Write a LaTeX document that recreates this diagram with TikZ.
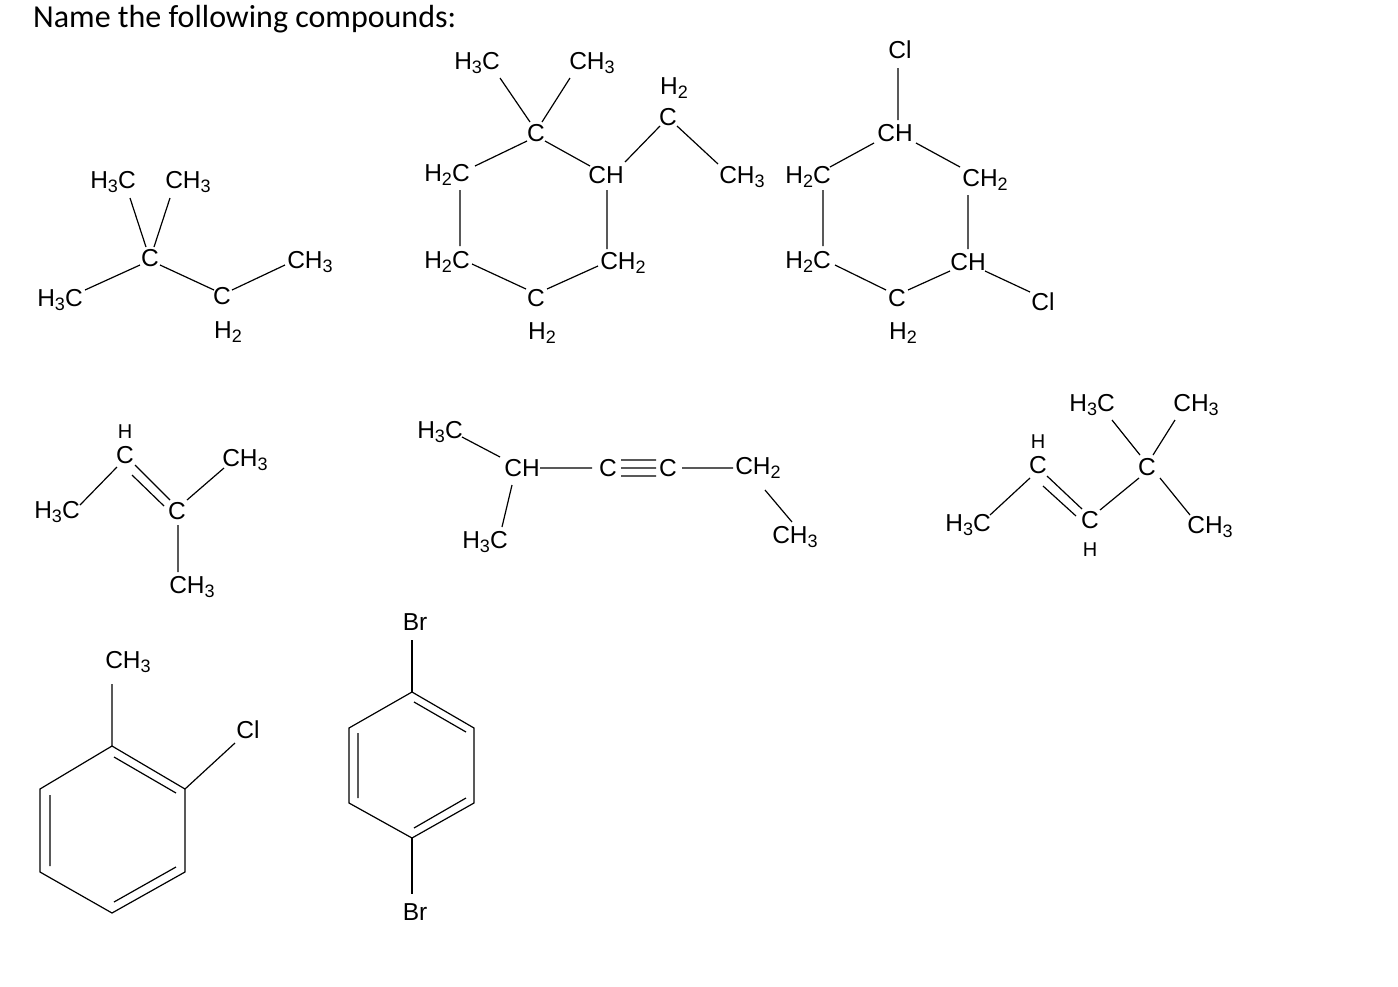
\documentclass[tikz,border=0pt]{standalone}
\usepackage{fontspec}
\setmainfont{Liberation Sans}
\newfontfamily\titlefont{Carlito}
\newcommand{\sbs}[1]{\raisebox{-0.35ex}{\fontsize{18}{18}\selectfont #1}}
\begin{document}
\begin{tikzpicture}[x=1pt,y=-1pt,
  lab/.style={inner sep=0pt,font=\fontsize{24.5}{25}\selectfont},
  bd/.style={line width=1.2pt}]
\useasboundingbox[fill=white] (0,0) rectangle (1398,986);
\node[anchor=base west,inner sep=0pt,font=\titlefont\fontsize{32}{33}\selectfont] (title) at (33,27) {Name the following compounds:};
% molecule 1
\node[lab] (a1) at (113,182) {H\sbs{3}C};
\node[lab] (a2) at (188,182) {CH\sbs{3}};
\node[lab] (a3) at (150,258) {C};
\node[lab] (a4) at (60,300) {H\sbs{3}C};
\node[lab] (a5) at (222,296) {C};
\node[lab] (a6) at (228,332) {H\sbs{2}};
\node[lab] (a7) at (310,262) {CH\sbs{3}};
\draw[bd] (130,198)--(146,247) (170,198)--(154,247) (85,290)--(140,265) (160,265)--(214,290) (232,290)--(285,265);
% molecule 2
\node[lab] (b1) at (477,63) {H\sbs{3}C};
\node[lab] (b2) at (592,63) {CH\sbs{3}};
\node[lab] (b3) at (536,133) {C};
\node[lab] (b4) at (674,88) {H\sbs{2}};
\node[lab] (b5) at (668,117) {C};
\node[lab] (b6) at (606,175) {CH};
\node[lab] (b7) at (742,177) {CH\sbs{3}};
\node[lab] (b8) at (447,175) {H\sbs{2}C};
\node[lab] (b9) at (447,262) {H\sbs{2}C};
\node[lab] (b10) at (536,298) {C};
\node[lab] (b11) at (542,333) {H\sbs{2}};
\node[lab] (b12) at (623,263) {CH\sbs{2}};
\draw[bd] (500,78)--(530,122) (570,78)--(542,122) (527,141)--(475,166) (545,141)--(590,166)
 (625,162)--(660,126) (677,126)--(718,164) (460,190)--(460,246) (607,190)--(607,249)
 (472,264)--(526,289) (547,289)--(598,266);
% molecule 3
\node[lab] (c1) at (900,50) {Cl};
\node[lab] (c2) at (895,133) {CH};
\node[lab] (c3) at (985,180) {CH\sbs{2}};
\node[lab] (c4) at (808,177) {H\sbs{2}C};
\node[lab] (c5) at (808,262) {H\sbs{2}C};
\node[lab] (c6) at (897,298) {C};
\node[lab] (c7) at (903,333) {H\sbs{2}};
\node[lab] (c8) at (968,262) {CH};
\node[lab] (c9) at (1043,302) {Cl};
\draw[bd] (898,68)--(898,120) (874,143)--(830,167) (916,143)--(960,167) (823,190)--(823,246)
 (968,195)--(968,249) (835,265)--(886,290) (908,290)--(950,271) (985,271)--(1030,292);
% molecule 4
\node[lab,font=\fontsize{20}{20}\selectfont] (d1) at (125,432) {H};
\node[lab] (d2) at (125,455) {C};
\node[lab] (d3) at (245,460) {CH\sbs{3}};
\node[lab] (d4) at (57,512) {H\sbs{3}C};
\node[lab] (d5) at (177,511) {C};
\node[lab] (d6) at (192,587) {CH\sbs{3}};
\draw[bd] (80,505)--(117,467) (135,465)--(170,500) (132,475)--(164,506) (187,500)--(224,468) (178,525)--(178,572);
% molecule 5
\node[lab] (e1) at (440,432) {H\sbs{3}C};
\node[lab] (e2) at (522,468) {CH};
\node[lab] (e3) at (608,468) {C};
\node[lab] (e4) at (668,468) {C};
\node[lab] (e5) at (758,468) {CH\sbs{2}};
\node[lab] (e6) at (485,542) {H\sbs{3}C};
\node[lab] (e7) at (795,537) {CH\sbs{3}};
\draw[bd] (462,437)--(500,457) (540,468)--(592,468) (621,460)--(656,460) (621,468)--(656,468) (621,476)--(656,476)
 (682,468)--(733,468) (512,485)--(502,527) (765,490)--(792,522);
% molecule 6
\node[lab] (f1) at (1092,405) {H\sbs{3}C};
\node[lab] (f2) at (1196,405) {CH\sbs{3}};
\node[lab,font=\fontsize{20}{20}\selectfont] (f3) at (1038,442) {H};
\node[lab] (f4) at (1038,465) {C};
\node[lab] (f5) at (1147,467) {C};
\node[lab] (f6) at (968,525) {H\sbs{3}C};
\node[lab] (f7) at (1210,527) {CH\sbs{3}};
\node[lab] (f8) at (1090,520) {C};
\node[lab,font=\fontsize{20}{20}\selectfont] (f9) at (1090,550) {H};
\draw[bd] (990,515)--(1030,478) (1047,476)--(1082,509) (1043,486)--(1076,516) (1100,510)--(1139,478)
 (1112,420)--(1140,455) (1175,420)--(1153,455) (1160,478)--(1190,515);
% molecule 7
\coordinate (g1) at (112,746); \coordinate (g2) at (185,789); \coordinate (g3) at (185,872);
\coordinate (g4) at (112,913); \coordinate (g5) at (40,872); \coordinate (g6) at (40,789);
\draw[bd] (g1)--(g2)--(g3)--(g4)--(g5)--(g6)--cycle;
\draw[bd] (114,757)--(176,793) (50,795)--(50,866) (114,902)--(176,867);
\node[lab] (g7) at (128,662) {CH\sbs{3}};
\node[lab] (g8) at (248,730) {Cl};
\draw[bd] (g1)--(112,684) (g2)--(235,743);
% molecule 8
\coordinate (h1) at (412,692); \coordinate (h2) at (474,728); \coordinate (h3) at (474,803);
\coordinate (h4) at (412,838); \coordinate (h5) at (349,803); \coordinate (h6) at (349,728);
\draw[bd] (h1)--(h2)--(h3)--(h4)--(h5)--(h6)--cycle;
\draw[bd] (414,702)--(466,732) (358,733)--(358,798) (414,828)--(466,798);
\node[lab] (h7) at (415,622) {Br};
\node[lab] (h8) at (415,912) {Br};
\draw[bd] (h1)--(412,640) (h4)--(412,894);
\end{tikzpicture}
\end{document}
